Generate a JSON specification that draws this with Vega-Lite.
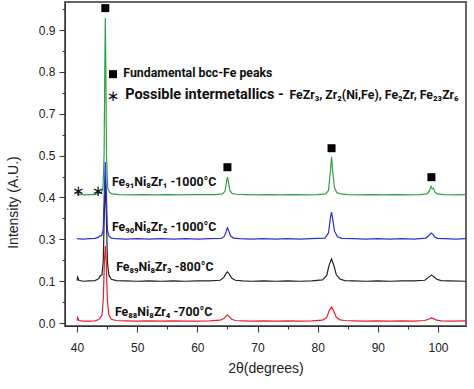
{
  "$schema": "https://vega.github.io/schema/vega-lite/v6.json",
  "width": 401,
  "height": 324,
  "autosize": {"type": "none"},
  "padding": {"left": 65, "top": 2, "right": 8, "bottom": 63},
  "background": "white",
  "config": {
    "view": {"stroke": "#666", "strokeWidth": 2},
    "axis": {
      "grid": false,
      "domainColor": "#333",
      "tickColor": "#333",
      "labelFont": "Liberation Sans",
      "labelFontSize": 12,
      "labelColor": "#222",
      "titleFont": "Liberation Sans",
      "titleFontWeight": "normal",
      "titleFontSize": 14,
      "titleColor": "#222"
    }
  },
  "datasets": {
    "fe91": [
      {"theta":40.0,"intensity":0.399},{"theta":40.2,"intensity":0.405},{"theta":40.4,"intensity":0.400},{"theta":41.0,"intensity":0.398},{"theta":42.0,"intensity":0.399},{"theta":43.0,"intensity":0.399},{"theta":43.3,"intensity":0.401},{"theta":43.5,"intensity":0.405},{"theta":43.7,"intensity":0.404},{"theta":44.0,"intensity":0.404},{"theta":44.3,"intensity":0.415},{"theta":44.5,"intensity":0.52},{"theta":44.62,"intensity":0.80},{"theta":44.7,"intensity":0.947},{"theta":44.78,"intensity":0.80},{"theta":44.9,"intensity":0.52},{"theta":45.1,"intensity":0.42},{"theta":45.4,"intensity":0.406},{"theta":45.8,"intensity":0.401},{"theta":47.0,"intensity":0.399},{"theta":49.0,"intensity":0.398},{"theta":51.0,"intensity":0.399},{"theta":53.0,"intensity":0.398},{"theta":55.0,"intensity":0.399},{"theta":57.0,"intensity":0.398},{"theta":59.0,"intensity":0.399},{"theta":61.0,"intensity":0.399},{"theta":63.0,"intensity":0.399},{"theta":64.2,"intensity":0.401},{"theta":64.6,"intensity":0.410},{"theta":64.85,"intensity":0.440},{"theta":65.0,"intensity":0.453},{"theta":65.15,"intensity":0.440},{"theta":65.4,"intensity":0.412},{"theta":65.8,"intensity":0.402},{"theta":66.5,"intensity":0.400},{"theta":68,"intensity":0.399},{"theta":70,"intensity":0.398},{"theta":72,"intensity":0.399},{"theta":74,"intensity":0.398},{"theta":76,"intensity":0.399},{"theta":78,"intensity":0.398},{"theta":80,"intensity":0.399},{"theta":81.3,"intensity":0.401},{"theta":81.8,"intensity":0.412},{"theta":82.1,"intensity":0.470},{"theta":82.3,"intensity":0.516},{"theta":82.5,"intensity":0.470},{"theta":82.8,"intensity":0.420},{"theta":83.2,"intensity":0.405},{"theta":83.8,"intensity":0.401},{"theta":85,"intensity":0.399},{"theta":87,"intensity":0.398},{"theta":89,"intensity":0.399},{"theta":91,"intensity":0.398},{"theta":93,"intensity":0.399},{"theta":95,"intensity":0.398},{"theta":97,"intensity":0.399},{"theta":98.2,"intensity":0.401},{"theta":98.6,"intensity":0.412},{"theta":98.85,"intensity":0.425},{"theta":99.05,"intensity":0.417},{"theta":99.25,"intensity":0.418},{"theta":99.5,"intensity":0.406},{"theta":99.9,"intensity":0.401},{"theta":101,"intensity":0.399},{"theta":103,"intensity":0.398},{"theta":104.6,"intensity":0.399}
    ],
    "fe90": [
      {"theta":40.0,"intensity":0.262},{"theta":41,"intensity":0.261},{"theta":42,"intensity":0.262},{"theta":43,"intensity":0.263},{"theta":43.5,"intensity":0.266},{"theta":43.8,"intensity":0.270},{"theta":44.1,"intensity":0.272},{"theta":44.35,"intensity":0.29},{"theta":44.52,"intensity":0.40},{"theta":44.7,"intensity":0.50},{"theta":44.88,"intensity":0.40},{"theta":45.05,"intensity":0.29},{"theta":45.3,"intensity":0.270},{"theta":45.7,"intensity":0.264},{"theta":46.5,"intensity":0.262},{"theta":48,"intensity":0.261},{"theta":50,"intensity":0.262},{"theta":52,"intensity":0.261},{"theta":54,"intensity":0.262},{"theta":56,"intensity":0.261},{"theta":58,"intensity":0.262},{"theta":60,"intensity":0.261},{"theta":62,"intensity":0.262},{"theta":64,"intensity":0.263},{"theta":64.5,"intensity":0.270},{"theta":64.8,"intensity":0.285},{"theta":65.0,"intensity":0.296},{"theta":65.2,"intensity":0.287},{"theta":65.5,"intensity":0.271},{"theta":66,"intensity":0.264},{"theta":67,"intensity":0.262},{"theta":69,"intensity":0.261},{"theta":71,"intensity":0.262},{"theta":73,"intensity":0.261},{"theta":75,"intensity":0.262},{"theta":77,"intensity":0.261},{"theta":79,"intensity":0.262},{"theta":81.2,"intensity":0.264},{"theta":81.8,"intensity":0.280},{"theta":82.1,"intensity":0.325},{"theta":82.3,"intensity":0.345},{"theta":82.5,"intensity":0.322},{"theta":82.8,"intensity":0.285},{"theta":83.3,"intensity":0.268},{"theta":84,"intensity":0.263},{"theta":86,"intensity":0.262},{"theta":88,"intensity":0.261},{"theta":90,"intensity":0.262},{"theta":92,"intensity":0.261},{"theta":94,"intensity":0.262},{"theta":96,"intensity":0.261},{"theta":98,"intensity":0.264},{"theta":98.5,"intensity":0.272},{"theta":98.85,"intensity":0.280},{"theta":99.1,"intensity":0.277},{"theta":99.4,"intensity":0.268},{"theta":99.9,"intensity":0.263},{"theta":101,"intensity":0.262},{"theta":103,"intensity":0.261},{"theta":104.6,"intensity":0.262}
    ],
    "fe89": [
      {"theta":40.0,"intensity":0.132},{"theta":40.1,"intensity":0.143},{"theta":40.3,"intensity":0.133},{"theta":41,"intensity":0.130},{"theta":42,"intensity":0.131},{"theta":43,"intensity":0.132},{"theta":43.6,"intensity":0.138},{"theta":43.9,"intensity":0.148},{"theta":44.15,"intensity":0.150},{"theta":44.35,"intensity":0.19},{"theta":44.55,"intensity":0.35},{"theta":44.7,"intensity":0.45},{"theta":44.85,"intensity":0.35},{"theta":45.05,"intensity":0.19},{"theta":45.3,"intensity":0.148},{"theta":45.7,"intensity":0.136},{"theta":46.5,"intensity":0.132},{"theta":48,"intensity":0.131},{"theta":50,"intensity":0.130},{"theta":52,"intensity":0.131},{"theta":54,"intensity":0.130},{"theta":56,"intensity":0.131},{"theta":58,"intensity":0.130},{"theta":60,"intensity":0.131},{"theta":62,"intensity":0.131},{"theta":63.8,"intensity":0.133},{"theta":64.4,"intensity":0.142},{"theta":64.8,"intensity":0.155},{"theta":65.0,"intensity":0.159},{"theta":65.25,"intensity":0.154},{"theta":65.7,"intensity":0.140},{"theta":66.3,"intensity":0.133},{"theta":67.5,"intensity":0.131},{"theta":69,"intensity":0.130},{"theta":71,"intensity":0.131},{"theta":73,"intensity":0.130},{"theta":75,"intensity":0.131},{"theta":77,"intensity":0.130},{"theta":79,"intensity":0.131},{"theta":80.8,"intensity":0.134},{"theta":81.5,"intensity":0.148},{"theta":81.9,"intensity":0.180},{"theta":82.3,"intensity":0.199},{"theta":82.7,"intensity":0.178},{"theta":83.1,"intensity":0.150},{"theta":83.7,"intensity":0.137},{"theta":84.5,"intensity":0.132},{"theta":86,"intensity":0.131},{"theta":88,"intensity":0.130},{"theta":90,"intensity":0.131},{"theta":92,"intensity":0.130},{"theta":94,"intensity":0.131},{"theta":96,"intensity":0.131},{"theta":97.8,"intensity":0.133},{"theta":98.4,"intensity":0.142},{"theta":98.9,"intensity":0.149},{"theta":99.3,"intensity":0.144},{"theta":99.8,"intensity":0.136},{"theta":100.5,"intensity":0.132},{"theta":102,"intensity":0.131},{"theta":104.6,"intensity":0.130}
    ],
    "fe88": [
      {"theta":40.0,"intensity":0.008},{"theta":40.1,"intensity":0.017},{"theta":40.3,"intensity":0.008},{"theta":41,"intensity":0.006},{"theta":42,"intensity":0.006},{"theta":43,"intensity":0.007},{"theta":43.6,"intensity":0.011},{"theta":43.9,"intensity":0.018},{"theta":44.15,"intensity":0.025},{"theta":44.35,"intensity":0.07},{"theta":44.55,"intensity":0.19},{"theta":44.7,"intensity":0.240},{"theta":44.85,"intensity":0.19},{"theta":45.05,"intensity":0.07},{"theta":45.3,"intensity":0.025},{"theta":45.7,"intensity":0.012},{"theta":46.5,"intensity":0.008},{"theta":48,"intensity":0.007},{"theta":50,"intensity":0.006},{"theta":52,"intensity":0.007},{"theta":54,"intensity":0.006},{"theta":56,"intensity":0.007},{"theta":58,"intensity":0.006},{"theta":60,"intensity":0.006},{"theta":62,"intensity":0.007},{"theta":63.8,"intensity":0.009},{"theta":64.4,"intensity":0.014},{"theta":64.8,"intensity":0.022},{"theta":65.0,"intensity":0.025},{"theta":65.25,"intensity":0.021},{"theta":65.7,"intensity":0.012},{"theta":66.3,"intensity":0.008},{"theta":67.5,"intensity":0.007},{"theta":69,"intensity":0.006},{"theta":71,"intensity":0.007},{"theta":73,"intensity":0.006},{"theta":75,"intensity":0.007},{"theta":77,"intensity":0.006},{"theta":79,"intensity":0.007},{"theta":80.8,"intensity":0.009},{"theta":81.5,"intensity":0.017},{"theta":81.9,"intensity":0.038},{"theta":82.3,"intensity":0.050},{"theta":82.7,"intensity":0.036},{"theta":83.1,"intensity":0.018},{"theta":83.7,"intensity":0.010},{"theta":84.5,"intensity":0.008},{"theta":86,"intensity":0.007},{"theta":88,"intensity":0.006},{"theta":90,"intensity":0.007},{"theta":92,"intensity":0.006},{"theta":94,"intensity":0.007},{"theta":96,"intensity":0.006},{"theta":97.8,"intensity":0.008},{"theta":98.4,"intensity":0.012},{"theta":98.9,"intensity":0.016},{"theta":99.3,"intensity":0.013},{"theta":99.8,"intensity":0.009},{"theta":100.5,"intensity":0.007},{"theta":102,"intensity":0.006},{"theta":104.6,"intensity":0.007}
    ],
    "squares": [
      {"theta":44.7,"intensity":0.978},{"theta":65.0,"intensity":0.484},{"theta":82.3,"intensity":0.543},{"theta":98.9,"intensity":0.453},{"theta":45.98,"intensity":0.773}
    ],
    "stars": [
      {"theta":40.2,"intensity":0.41},{"theta":43.5,"intensity":0.41},{"theta":45.98,"intensity":0.705}
    ],
    "legendSmall": [
      {"theta":47.7,"intensity":0.776,"text":"Fundamental bcc-Fe peaks"},
      {"theta":75.3,"intensity":0.708,"text":"FeZr₃, Zr₂(Ni,Fe), Fe₂Zr, Fe₂₃Zr₆"}
    ],
    "legendLarge": [
      {"theta":48.0,"intensity":0.708,"text":"Possible intermetallics -"}
    ],
    "sampleLabels": [
      {"theta":45.8,"intensity":0.438,"text":"Fe₉₁Ni₈Zr₁ -1000°C"},
      {"theta":45.8,"intensity":0.298,"text":"Fe₉₀Ni₈Zr₂ -1000°C"},
      {"theta":46.5,"intensity":0.174,"text":"Fe₈₉Ni₈Zr₃ -800°C"},
      {"theta":46.3,"intensity":0.035,"text":"Fe₈₈Ni₈Zr₄ -700°C"}
    ]
  },
  "encoding": {
    "x": {
      "field": "theta",
      "type": "quantitative",
      "scale": {"domain": [38, 104.65], "nice": false, "zero": false},
      "axis": {
        "title": "2θ(degrees)",
        "values": [40,45,50,55,60,65,70,75,80,85,90,95,100],
        "labelExpr": "datum.value % 10 == 0 ? datum.label : ''",
        "tickSize": {"condition": {"test": "datum.value % 10 != 0", "value": 3}, "value": 6},
        "labelPadding": 10,
        "titlePadding": 8
      }
    },
    "y": {
      "field": "intensity",
      "type": "quantitative",
      "scale": {"domain": [-0.009, 0.997], "nice": false, "zero": false},
      "axis": {
        "title": "Intensity (A.U.)",
        "values": [0,0.065,0.13,0.195,0.26,0.325,0.39,0.455,0.52,0.585,0.65,0.715,0.78,0.845,0.91,0.975],
        "labelExpr": "round(datum.value*1000) % 130 != 0 ? '' : format(datum.value, '.1f')",
        "tickSize": {"condition": {"test": "round(datum.value*1000) % 130 != 0", "value": 3}, "value": 6},
        "labelPadding": 4,
        "titleX": -45,
        "titleY": 200
      }
    }
  },
  "layer": [
    {"data": {"name": "fe89"}, "mark": {"type": "line", "color": "#222222", "strokeWidth": 1.2}},
    {"data": {"name": "fe91"}, "mark": {"type": "line", "color": "#34a044", "strokeWidth": 1.2}},
    {"data": {"name": "fe90"}, "mark": {"type": "line", "color": "#2f2fd6", "strokeWidth": 1.2}},
    {"data": {"name": "fe88"}, "mark": {"type": "line", "color": "#e8202c", "strokeWidth": 1.2}},
    {"data": {"name": "squares"}, "mark": {"type": "point", "shape": "square", "filled": true, "color": "#000000", "size": 64, "opacity": 1}},
    {"data": {"name": "stars"}, "mark": {"type": "text", "text": "∗", "font": "DejaVu Sans", "fontSize": 15, "color": "#111", "baseline": "middle", "align": "center"}},
    {"data": {"name": "legendSmall"}, "mark": {"type": "text", "font": "Roboto", "fontSize": 12.3, "fontWeight": "bold", "color": "#111", "align": "left", "baseline": "middle"}, "encoding": {"text": {"field": "text"}}},
    {"data": {"name": "legendLarge"}, "mark": {"type": "text", "font": "Roboto", "fontSize": 14.5, "fontWeight": "bold", "color": "#111", "align": "left", "baseline": "middle"}, "encoding": {"text": {"field": "text"}}},
    {"data": {"name": "sampleLabels"}, "mark": {"type": "text", "font": "Roboto", "fontSize": 12.3, "fontWeight": "bold", "color": "#111", "align": "left", "baseline": "middle"}, "encoding": {"text": {"field": "text"}}}
  ]
}
